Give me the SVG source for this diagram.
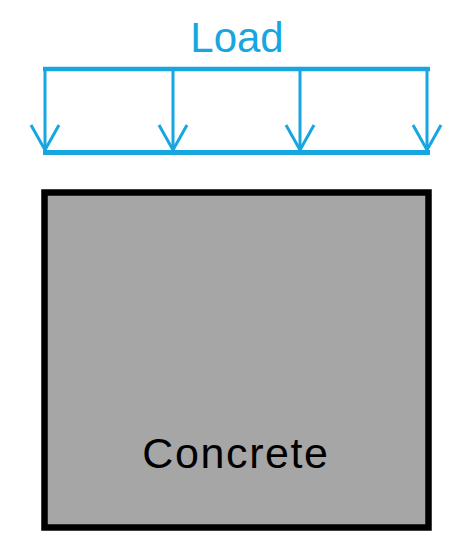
<svg xmlns="http://www.w3.org/2000/svg" width="474" height="556" viewBox="0 0 474 556">
<style>
.blue{stroke:#17a6df;fill:none;stroke-linecap:butt}
.lbl{font-family:"Liberation Sans",Arial,sans-serif;text-anchor:middle}
</style>
<rect width="474" height="556" fill="#fff"/>
<g id="load">
<text class="lbl" x="237" y="52" font-size="42" fill="#17a6df">Load</text>
</g>
<g id="connectors" class="blue">
<line x1="43" y1="69" x2="430" y2="69" stroke-width="4.5"/>
<line x1="43" y1="152.5" x2="430" y2="152.5" stroke-width="5"/>
<g stroke-width="3">
<line x1="45" y1="69" x2="45" y2="151"/>
<line x1="173" y1="69" x2="173" y2="151"/>
<line x1="300" y1="69" x2="300" y2="151"/>
<line x1="427" y1="69" x2="427" y2="151"/>
<polyline points="31,125 45,150 59,125"/>
<polyline points="159,125 173,150 187,125"/>
<polyline points="286,125 300,150 314,125"/>
<polyline points="413,125 427,150 441,125"/>
</g>
</g>
<g id="concrete">
<rect x="44.5" y="192.5" width="384" height="335" fill="#a6a6a6" stroke="#000" stroke-width="6.5"/>
<text class="lbl" x="236" y="468" font-size="43" fill="#000" letter-spacing="1.6">Concrete</text>
</g>
</svg>
